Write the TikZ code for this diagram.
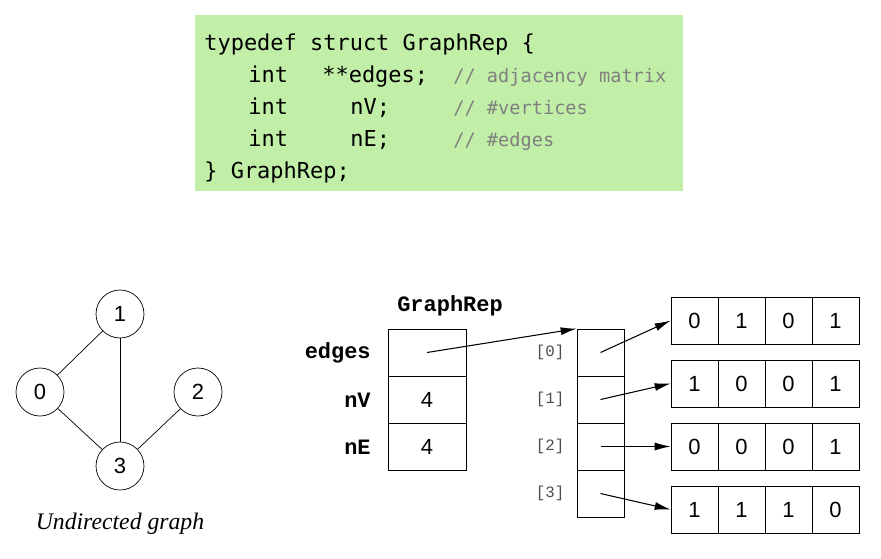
\documentclass[tikz,border=0pt]{standalone}
\usepackage{fontspec}
\setmainfont{Liberation Sans}
\setmonofont{DejaVu Sans Mono}
\newfontfamily\capfont{Liberation Serif}
\newfontfamily\labfont{Liberation Mono}
\usetikzlibrary{positioning,arrows.meta}
\definecolor{codegreen}{HTML}{C2EFA8}
\begin{document}
\begin{tikzpicture}
            [
                x=0.02cm, y=-0.02cm,
                vertex/.style={circle, draw=black, minimum size=0.96cm, inner sep=0pt, font=\fontsize{12.5}{14}\selectfont},
                cell/.style={rectangle, draw=black, minimum width=0.94cm, minimum height=0.94cm, inner sep=0pt, font=\fontsize{12.5}{14}\selectfont},
                code/.style={anchor=base west, inner sep=0pt, font=\ttfamily\fontsize{12.5}{14}\selectfont},
                note/.style={anchor=base west, inner sep=0pt, text=gray, font=\ttfamily\fontsize{10.6}{12}\selectfont},
                field/.style={anchor=east, inner sep=0pt, font=\labfont\bfseries\fontsize{12.5}{14}\selectfont},
                idx/.style={anchor=center, inner sep=0pt, text=black!70, font=\labfont\fontsize{9}{10}\selectfont},
                ptr/.style={-{Latex[length=3.2mm,width=1.6mm]}, semithick}
            ]
            \useasboundingbox (0,0) rectangle (881,558);
            % struct code
            \fill[codegreen] (195,15) rectangle (683,191);
            \node[code] (l1) at (204,50) {typedef struct GraphRep \{};
            \node[code] (i1) at (248,82) {int};
            \node[code] (e1) at (322,82) {**edges;};
            \node[note] (c1) at (453,82) {// adjacency matrix};
            \node[code] (i2) at (248,114) {int};
            \node[code] (e2) at (350,114) {nV;};
            \node[note] (c2) at (453,114) {// \#vertices};
            \node[code] (i3) at (248,146) {int};
            \node[code] (e3) at (350,146) {nE;};
            \node[note] (c3) at (453,146) {// \#edges};
            \node[code] (l5) at (204,178) {\} GraphRep;};
            % graph
            \node[vertex] (v1) at (120,314) {1};
            \node[vertex] (v0) at (40,392) {0};
            \node[vertex] (v2) at (198,392) {2};
            \node[vertex] (v3) at (120,466) {3};
            \draw (v0) -- (v1);
            \draw (v1) -- (v3);
            \draw (v0) -- (v3);
            \draw (v2) -- (v3);
            \node (cap) at (120,524) {\capfont\itshape\fontsize{13.5}{15}\selectfont Undirected graph};
            % GraphRep struct
            \node[inner sep=0pt, font=\labfont\bfseries\fontsize{12.5}{14}\selectfont] (title) at (450,306) {GraphRep};
            \node[cell, minimum width=1.56cm] (sE) at (427,352.5) {};
            \node[cell, minimum width=1.56cm] (sV) at (427,399.5) {4};
            \node[cell, minimum width=1.56cm] (sN) at (427,446.5) {4};
            \node[field] (fE) at (371,353) {edges};
            \node[field] (fV) at (371,400) {nV};
            \node[field] (fN) at (371,447) {nE};
            % pointer array
            \foreach \i/\y in {0/352.5,1/399.5,2/446.5,3/493.5} {
                \node[cell] (p\i) at (600.5,\y) {};
                \node[idx] (k\i) at (550,\y) {[\i]};
            }
            % rows
            \foreach \r/\y/\vals in {0/320.5/{0,1,0,1},1/383.5/{1,0,0,1},2/446.5/{0,0,0,1},3/509.5/{1,1,1,0}} {
                \foreach \v [count=\c from 0] in \vals {
                    \node[cell] (m\r\c) at (694.5+47*\c,\y) {\v};
                }
            }
            \draw[ptr] (sE.center) -- (p0.north west);
            \draw[ptr] (p0.center) -- (m00.west);
            \draw[ptr] (p1.center) -- (m10.west);
            \draw[ptr] (p2.center) -- (m20.west);
            \draw[ptr] (p3.center) -- (m30.west);
\end{tikzpicture}
\end{document}
